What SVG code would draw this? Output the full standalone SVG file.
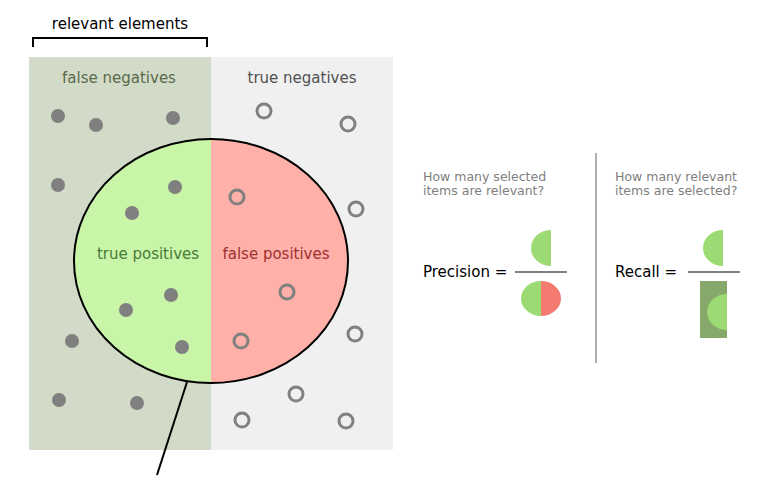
<svg xmlns="http://www.w3.org/2000/svg" width="768" height="480" viewBox="0 0 768 480">
<style>
text{font-family:"DejaVu Sans","Liberation Sans",sans-serif}
.fn{fill:#808080}
.tn{fill:none;stroke:#808080;stroke-width:3}
.q{font-size:12.5px;fill:#808080}
.f{font-size:15px;fill:#000}
</style>
<rect width="768" height="480" fill="#fff"/>
<g id="relevant">
<rect x="29" y="57" width="182" height="393" fill="#d2dbc8"/>
<text x="119" y="83" font-size="15" fill="#5a6a4a" text-anchor="middle">false negatives</text>
</g>
<g id="nonrelevant">
<rect x="211" y="57" width="182" height="393" fill="#f0f0f0"/>
<text x="302" y="83" font-size="15" fill="#505050" text-anchor="middle">true negatives</text>
</g>
<g id="bracket">
<path d="M33,47 V38 H207 V47" fill="none" stroke="#000" stroke-width="2"/>
<text x="120" y="29" font-size="15" text-anchor="middle">relevant elements</text>
</g>
<g id="selected">
<path d="M211,139 A137,122 0 0 0 211,383 Z" fill="#c8f5a8"/>
<path d="M211,139 A137,122 0 0 1 211,383 Z" fill="#ffb0a8"/>
<ellipse cx="211" cy="261" rx="137" ry="122" fill="none" stroke="#000" stroke-width="2"/>
<text x="148" y="259" font-size="15" fill="#4a7a3a" text-anchor="middle">true positives</text>
<text x="276" y="259" font-size="15" fill="#a03030" text-anchor="middle">false positives</text>
</g>
<g id="connectors">
<line x1="187" y1="382" x2="157" y2="475" stroke="#000" stroke-width="2"/>
</g>
<g id="dots">
<circle class="fn" cx="58" cy="116" r="7"/><circle class="fn" cx="96" cy="125" r="7"/><circle class="fn" cx="173" cy="118" r="7"/>
<circle class="fn" cx="58" cy="185" r="7"/><circle class="fn" cx="175" cy="187" r="7"/><circle class="fn" cx="132" cy="213" r="7"/>
<circle class="fn" cx="171" cy="295" r="7"/><circle class="fn" cx="126" cy="310" r="7"/><circle class="fn" cx="72" cy="341" r="7"/>
<circle class="fn" cx="182" cy="347" r="7"/><circle class="fn" cx="59" cy="400" r="7"/><circle class="fn" cx="137" cy="403" r="7"/>
<circle class="tn" cx="264" cy="111" r="7"/><circle class="tn" cx="348" cy="124" r="7"/><circle class="tn" cx="237" cy="197" r="7"/>
<circle class="tn" cx="356" cy="209" r="7"/><circle class="tn" cx="287" cy="292" r="7"/><circle class="tn" cx="355" cy="334" r="7"/>
<circle class="tn" cx="241" cy="341" r="7"/><circle class="tn" cx="296" cy="394" r="7"/><circle class="tn" cx="242" cy="420" r="7"/>
<circle class="tn" cx="346" cy="421" r="7"/>
</g>
<g id="precision">
<text class="q" x="423" y="181">How many selected</text>
<text class="q" x="423" y="195">items are relevant?</text>
<text class="f" x="423" y="277">Precision =</text>
<line x1="515" y1="272" x2="567" y2="272" stroke="#808080" stroke-width="2"/>
<path d="M551,230 A20,18 0 0 0 551,266 Z" fill="#9cdb74"/>
<path d="M541,281 A20,17.5 0 0 0 541,316 Z" fill="#9cdb74"/>
<path d="M541,281 A20,17.5 0 0 1 541,316 Z" fill="#f37b70"/>
</g>
<line x1="596" y1="153" x2="596" y2="363" stroke="#b0b0b0" stroke-width="2"/>
<g id="recall">
<text class="q" x="615" y="181">How many relevant</text>
<text class="q" x="615" y="195">items are selected?</text>
<text class="f" x="615" y="277">Recall =</text>
<line x1="688" y1="272" x2="740" y2="272" stroke="#808080" stroke-width="2"/>
<path d="M723,230 A20,18 0 0 0 723,266 Z" fill="#9cdb74"/>
<rect x="700" y="281" width="27" height="57" fill="#86a86a"/>
<path d="M727,294 A20,18 0 0 0 727,330 Z" fill="#9cdb74"/>
</g>
</svg>
